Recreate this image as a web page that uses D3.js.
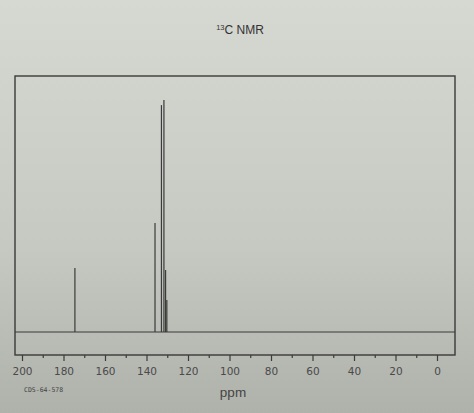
<!DOCTYPE html>
<html><head><meta charset="utf-8">
<script src="https://cdn.jsdelivr.net/npm/d3@7"></script>
<style>html,body{margin:0;padding:0;overflow:hidden;}</style>
</head><body>
<svg id="c" width="474" height="413"></svg>
<script>
const peakShift = [174.5, 135.9, 132.8, 131.6, 130.8, 130.2];
const peakIntensity = [27.6, 47.0, 97.8, 100, 26.7, 13.8];
const majorTicks = [200, 180, 160, 140, 120, 100, 80, 60, 40, 20, 0];
const minorTicks = [190, 170, 150, 130, 110, 90, 70, 50, 30, 10];

const svg = d3.select("#c");
const defs = svg.append("defs");
const g = defs.append("linearGradient").attr("id","bg").attr("x1",0).attr("y1",0).attr("x2",0).attr("y2",1);
g.append("stop").attr("offset","0%").attr("stop-color","#d6d8d2");
g.append("stop").attr("offset","60%").attr("stop-color","#c6c8c2");
g.append("stop").attr("offset","100%").attr("stop-color","#afb1ab");
svg.append("rect").attr("width",474).attr("height",413).attr("fill","url(#bg)");

const x = d3.scaleLinear().domain([200, 0]).range([22, 437]);
const y = d3.scaleLinear().domain([0, 100]).range([332, 100]);

const frame = {l: 15, r: 455, t: 76, b: 355};
const ink = "#3a3b3a";

svg.append("rect").attr("x",frame.l).attr("y",frame.t)
  .attr("width",frame.r-frame.l).attr("height",frame.b-frame.t)
  .attr("fill","none").attr("stroke",ink).attr("stroke-width",1.4);

// baseline
svg.append("line").attr("x1",frame.l).attr("x2",frame.r)
  .attr("y1",y(0)).attr("y2",y(0)).attr("stroke",ink).attr("stroke-width",1.2);

// peaks
svg.selectAll("line.peak").data(peakShift).join("line").attr("class","peak")
  .attr("x1",d=>x(d)).attr("x2",d=>x(d))
  .attr("y1",y(0)).attr("y2",(d,i)=>y(peakIntensity[i]))
  .attr("stroke",ink).attr("stroke-width",1.2);

// axis
const axisG = svg.append("g").attr("transform",`translate(0,${frame.b})`);
const ax = d3.axisBottom(x).tickValues(majorTicks).tickSize(6).tickPadding(7).tickFormat(d3.format("d"));
axisG.call(ax);
axisG.select(".domain").remove();
axisG.selectAll("line").attr("stroke",ink).attr("stroke-width",1.2);
axisG.selectAll("text").attr("fill","#4a4a4a").attr("font-family","DejaVu Sans, sans-serif").attr("font-size",10.5);
const axMinor = d3.axisBottom(x).tickValues(minorTicks).tickSize(3).tickFormat("");
const minorG = svg.append("g").attr("transform",`translate(0,${frame.b})`).call(axMinor);
minorG.select(".domain").remove();
minorG.selectAll("line").attr("stroke",ink).attr("stroke-width",1.2);

// texts
const title = svg.append("text").attr("x",240).attr("y",34).attr("text-anchor","middle")
  .attr("font-family","Liberation Sans, Arial, sans-serif").attr("font-size",12).attr("fill","#333");
title.append("tspan").attr("font-size",7.5).attr("dy",-4).text("13");
title.append("tspan").attr("dy",4).text("C NMR");

svg.append("text").attr("x",233).attr("y",397).attr("text-anchor","middle")
  .attr("font-family","Liberation Sans, Arial, sans-serif").attr("font-size",13.5).attr("fill","#444").text("ppm");
svg.append("text").attr("x",24).attr("y",392)
  .attr("font-family","DejaVu Sans Mono, monospace").attr("font-size",6.5).attr("fill","#444").text("CDS-64-578");
</script>
</body></html>
